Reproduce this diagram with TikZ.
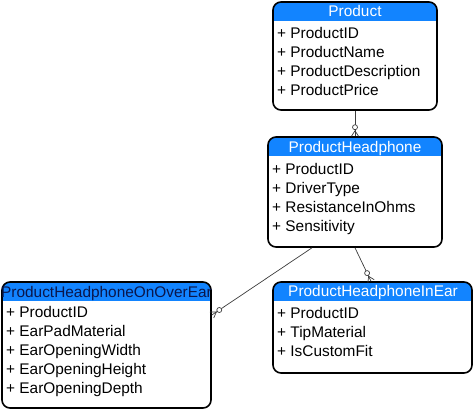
\documentclass[tikz,border=0pt]{standalone}
\usepackage{fontspec}
\setmainfont{Liberation Sans}
\usetikzlibrary{calc}
\definecolor{hdrblue}{RGB}{18,132,255}
\definecolor{hdrdark}{RGB}{10,22,75}
\definecolor{linkgray}{RGB}{60,60,60}
\tikzset{
  entity/.style={draw=black, line width=1.6bp, rounded corners=8bp, fill=white,
    inner sep=0pt,
    path picture={\fill[hdrblue, sharp corners] (path picture bounding box.north west) rectangle ([yshift=-19bp]path picture bounding box.north east);}},
  etitle/.style={anchor=base, inner sep=0pt, text=white, font=\fontsize{15.4bp}{18bp}\selectfont},
  erow/.style={anchor=base west, inner sep=0pt, text=black, font=\fontsize{15.4bp}{18bp}\selectfont},
  link/.style={draw=linkgray, line width=0.7bp},
}
\newcommand\zeromany[2]{%
  \draw[link] (#1) -- (#2);
  \draw[link] ($(#2)!5.5bp!(#1)$) -- ($(#2)!3.5bp!90:(#1)$);
  \draw[link] ($(#2)!5.5bp!(#1)$) -- ($(#2)!3.5bp!-90:(#1)$);
  \draw[link, fill=white] ($(#2)!9bp!(#1)$) circle (2.5bp);
}
\begin{document}
\begin{tikzpicture}[x=1bp, y=-1bp]
\useasboundingbox (0,0) rectangle (474,413);
% entities
\node[entity, minimum width=164bp, minimum height=108bp] (product) at (355,56) {};
\node[entity, minimum width=174bp, minimum height=110bp] (ph) at (355,192) {};
\node[entity, minimum width=209bp, minimum height=126bp] (onover) at (106.5,345) {};
\node[entity, minimum width=199bp, minimum height=91bp] (inear) at (372.5,327.5) {};
% titles
\node[etitle] (productT) at (355,16) {Product};
\node[etitle] (phT) at (355,152) {ProductHeadphone};
\node[etitle, text=hdrdark] (onoverT) at (106.5,297) {ProductHeadphoneOnOverEar};
\node[etitle] (inearT) at (373,296.5) {ProductHeadphoneInEar};
% rows
\node[erow] (p1) at (277,38) {+ ProductID};
\node[erow] (p2) at (277,57) {+ ProductName};
\node[erow] (p3) at (277,76) {+ ProductDescription};
\node[erow] (p4) at (277,95) {+ ProductPrice};
\node[erow] (h1) at (272,174) {+ ProductID};
\node[erow] (h2) at (272,193) {+ DriverType};
\node[erow] (h3) at (272,212) {+ ResistanceInOhms};
\node[erow] (h4) at (272,231) {+ Sensitivity};
\node[erow] (o1) at (6,317.7) {+ ProductID};
\node[erow] (o2) at (6,336.7) {+ EarPadMaterial};
\node[erow] (o3) at (6,355.7) {+ EarOpeningWidth};
\node[erow] (o4) at (6,374.3) {+ EarOpeningHeight};
\node[erow] (o5) at (6,393.3) {+ EarOpeningDepth};
\node[erow] (i1) at (277,318) {+ ProductID};
\node[erow] (i2) at (277,337) {+ TipMaterial};
\node[erow] (i3) at (277,356) {+ IsCustomFit};
% connectors
\coordinate (l1s) at (product.south);
\coordinate (l1e) at (ph.north);
\coordinate (l2s) at ([xshift=-43bp]ph.south);
\coordinate (l2e) at ([yshift=30bp]onover.east);
\coordinate (l3s) at (ph.south);
\coordinate (l3e) at ([xshift=-1.5bp]inear.north);
\zeromany{l1s}{l1e}
\zeromany{l2s}{l2e}
\zeromany{l3s}{l3e}
\end{tikzpicture}
\end{document}
